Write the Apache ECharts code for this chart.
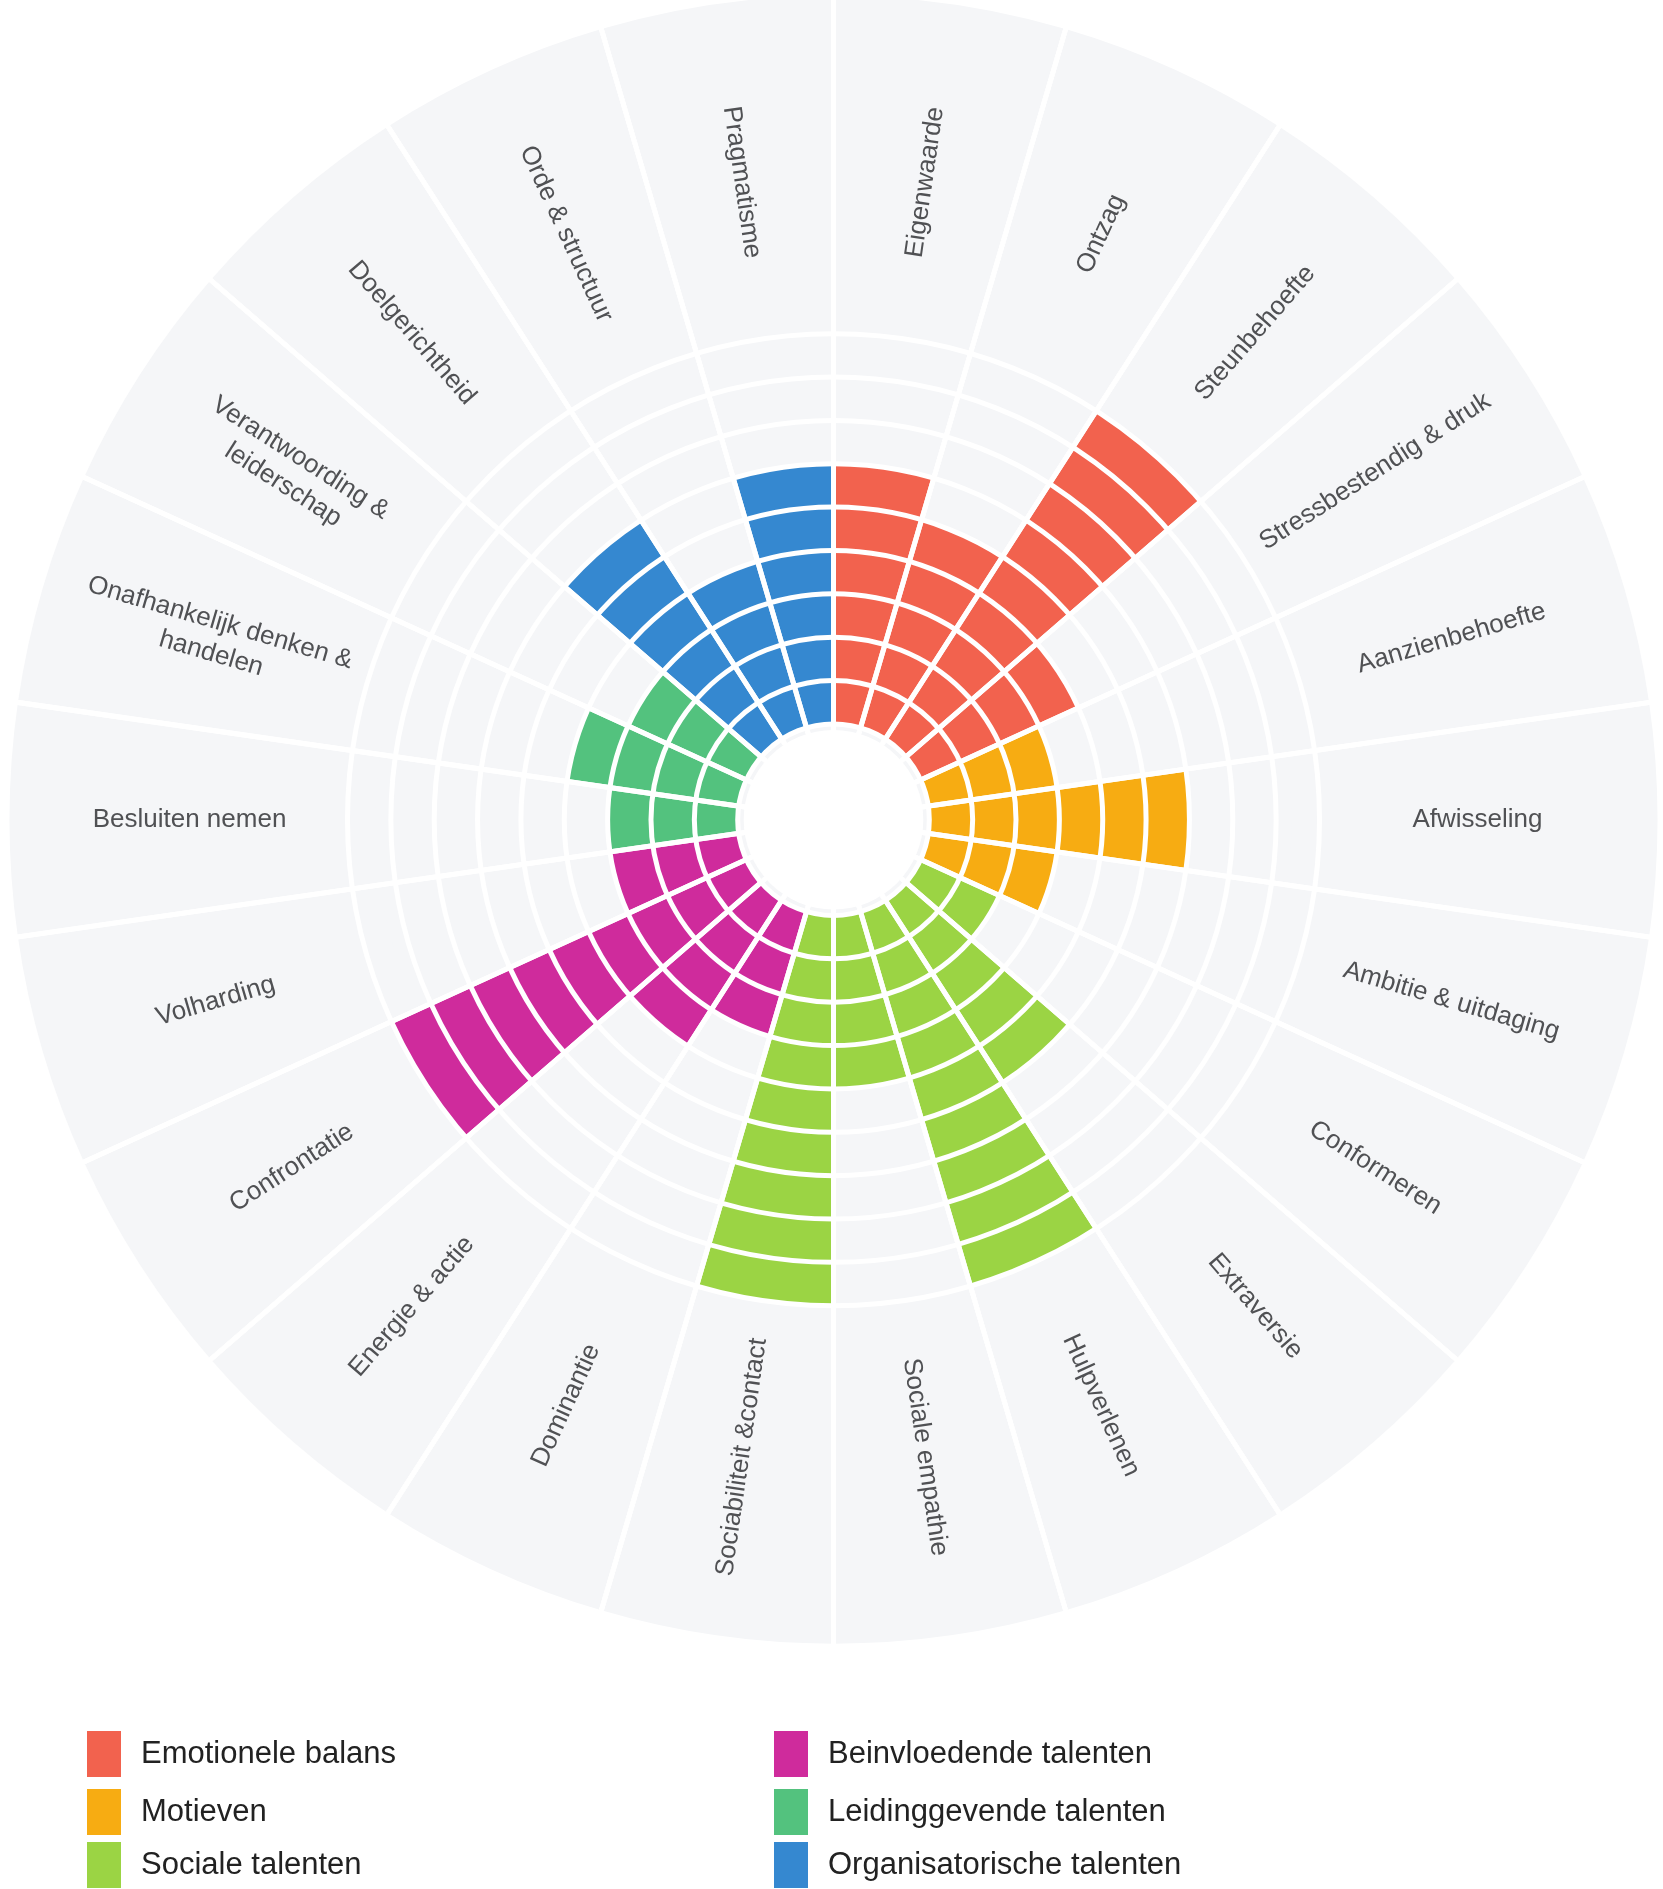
<!DOCTYPE html>
<html>
<head>
<meta charset="utf-8">
<script src="https://cdn.jsdelivr.net/npm/echarts@6/dist/echarts.min.js"></script>
<style>
  html, body { margin: 0; padding: 0; background: #ffffff; }
  #chart { width: 1663px; height: 1889px; }
</style>
</head>
<body>
<div id="chart"></div>
<script>
// ---- data ----
var categories = [
  'Eigenwaarde', 'Ontzag', 'Steunbehoefte', 'Stressbestendig & druk',
  'Aanzienbehoefte', 'Afwisseling', 'Ambitie & uitdaging',
  'Conformeren', 'Extraversie', 'Hulpverlenen', 'Sociale empathie', 'Sociabiliteit &contact',
  'Dominantie', 'Energie & actie', 'Confrontatie', 'Volharding',
  'Besluiten nemen', 'Onafhankelijk denken &\nhandelen', 'Verantwoording &\nleiderschap',
  'Doelgerichtheid', 'Orde & structuur', 'Pragmatisme'
];
var scores = [6, 5, 9, 4, 3, 6, 3, 2, 5, 9, 4, 9, 3, 4, 9, 3, 3, 4, 3, 6, 4, 6];
var groupOfCategory = [0, 0, 0, 0, 1, 1, 1, 2, 2, 2, 2, 2, 3, 3, 3, 3, 4, 4, 4, 5, 5, 5];
var groupNames = [
  'Emotionele balans', 'Motieven', 'Sociale talenten',
  'Beinvloedende talenten', 'Leidinggevende talenten', 'Organisatorische talenten'
];
var groupColors = ['#f2624e', '#f7ac12', '#9bd444', '#cf2b9c', '#53c27e', '#3588d0'];
var scaleMax = 9;

// ---- layout / style ----
var CX = 833.5, CY = 819.7;
var R_IN = 95.8, R_BAR = 486, R_OUT = 824;
var BG = '#f5f6f8';
var LINE_W = 5;

var series = [];

// background (inner part)
series.push({
  type: 'pie', silent: true, z: 1, animation: false,
  center: [CX, CY], radius: [R_IN - 6, 472],
  startAngle: 90, label: { show: false }, labelLine: { show: false },
  itemStyle: { color: BG, borderWidth: 0 },
  data: [{ value: 1, name: 'bg' }]
});

// background band carrying the category labels
series.push({
  type: 'pie', silent: true, z: 1, animation: false,
  center: [CX, CY], radius: [458, R_OUT],
  startAngle: 90, clockwise: true,
  itemStyle: { color: BG, borderWidth: 0 },
  label: {
    show: true, position: 'inside', rotate: 'radial',
    formatter: '{b}', fontSize: 26, lineHeight: 32,
    color: '#505154', fontFamily: '"Liberation Sans", Arial, Helvetica, sans-serif'
  },
  labelLine: { show: false },
  data: categories.map(function (c) { return { value: 1, name: c }; })
});

// stacked group bars
groupNames.forEach(function (g, gi) {
  series.push({
    name: g, type: 'bar', coordinateSystem: 'polar', stack: 'all',
    barCategoryGap: '0%', silent: true, z: 2, animation: false,
    itemStyle: { color: groupColors[gi] },
    data: scores.map(function (v, i) { return groupOfCategory[i] === gi ? v : '-'; })
  });
});

// white radial separators on top
series.push({
  type: 'pie', silent: true, z: 4, animation: false,
  center: [CX, CY], radius: [0, 900],
  startAngle: 90, clockwise: true,
  itemStyle: { color: 'rgba(0,0,0,0)', borderColor: '#ffffff', borderWidth: LINE_W },
  label: { show: false }, labelLine: { show: false },
  data: categories.map(function (c) { return { value: 1, name: 'sep-' + c }; })
});

var legendText = {
  fontSize: 31, color: '#222222',
  fontFamily: '"Liberation Sans", Arial, Helvetica, sans-serif',
  padding: [0, 0, 0, 15]
};
var legendLeft = [87, 87, 87, 774, 774, 774];
var legendTop = [1731, 1789, 1842, 1731, 1789, 1842];
var legends = groupNames.map(function (g, i) {
  return {
    data: [g], orient: 'vertical', left: legendLeft[i], top: legendTop[i],
    padding: 0, icon: 'rect', itemWidth: 34, itemHeight: 46,
    selectedMode: false, textStyle: legendText, z: 20
  };
});

var option = {
  animation: false,
  backgroundColor: '#ffffff',
  polar: { center: [CX, CY], radius: [R_IN, R_BAR] },
  angleAxis: {
    type: 'category', data: categories, startAngle: 90, clockwise: true,
    axisLine: { show: false }, axisTick: { show: false },
    axisLabel: { show: false }, splitLine: { show: false }
  },
  radiusAxis: {
    type: 'value', min: 0, max: scaleMax, interval: 1, z: 3,
    axisLine: { show: false }, axisTick: { show: false }, axisLabel: { show: false },
    splitLine: { show: true, lineStyle: { color: '#ffffff', width: LINE_W } }
  },
  legend: legends,
  series: series
};

var chart = echarts.init(document.getElementById('chart'), null, { renderer: 'canvas' });
chart.setOption(option);
</script>
</body>
</html>
